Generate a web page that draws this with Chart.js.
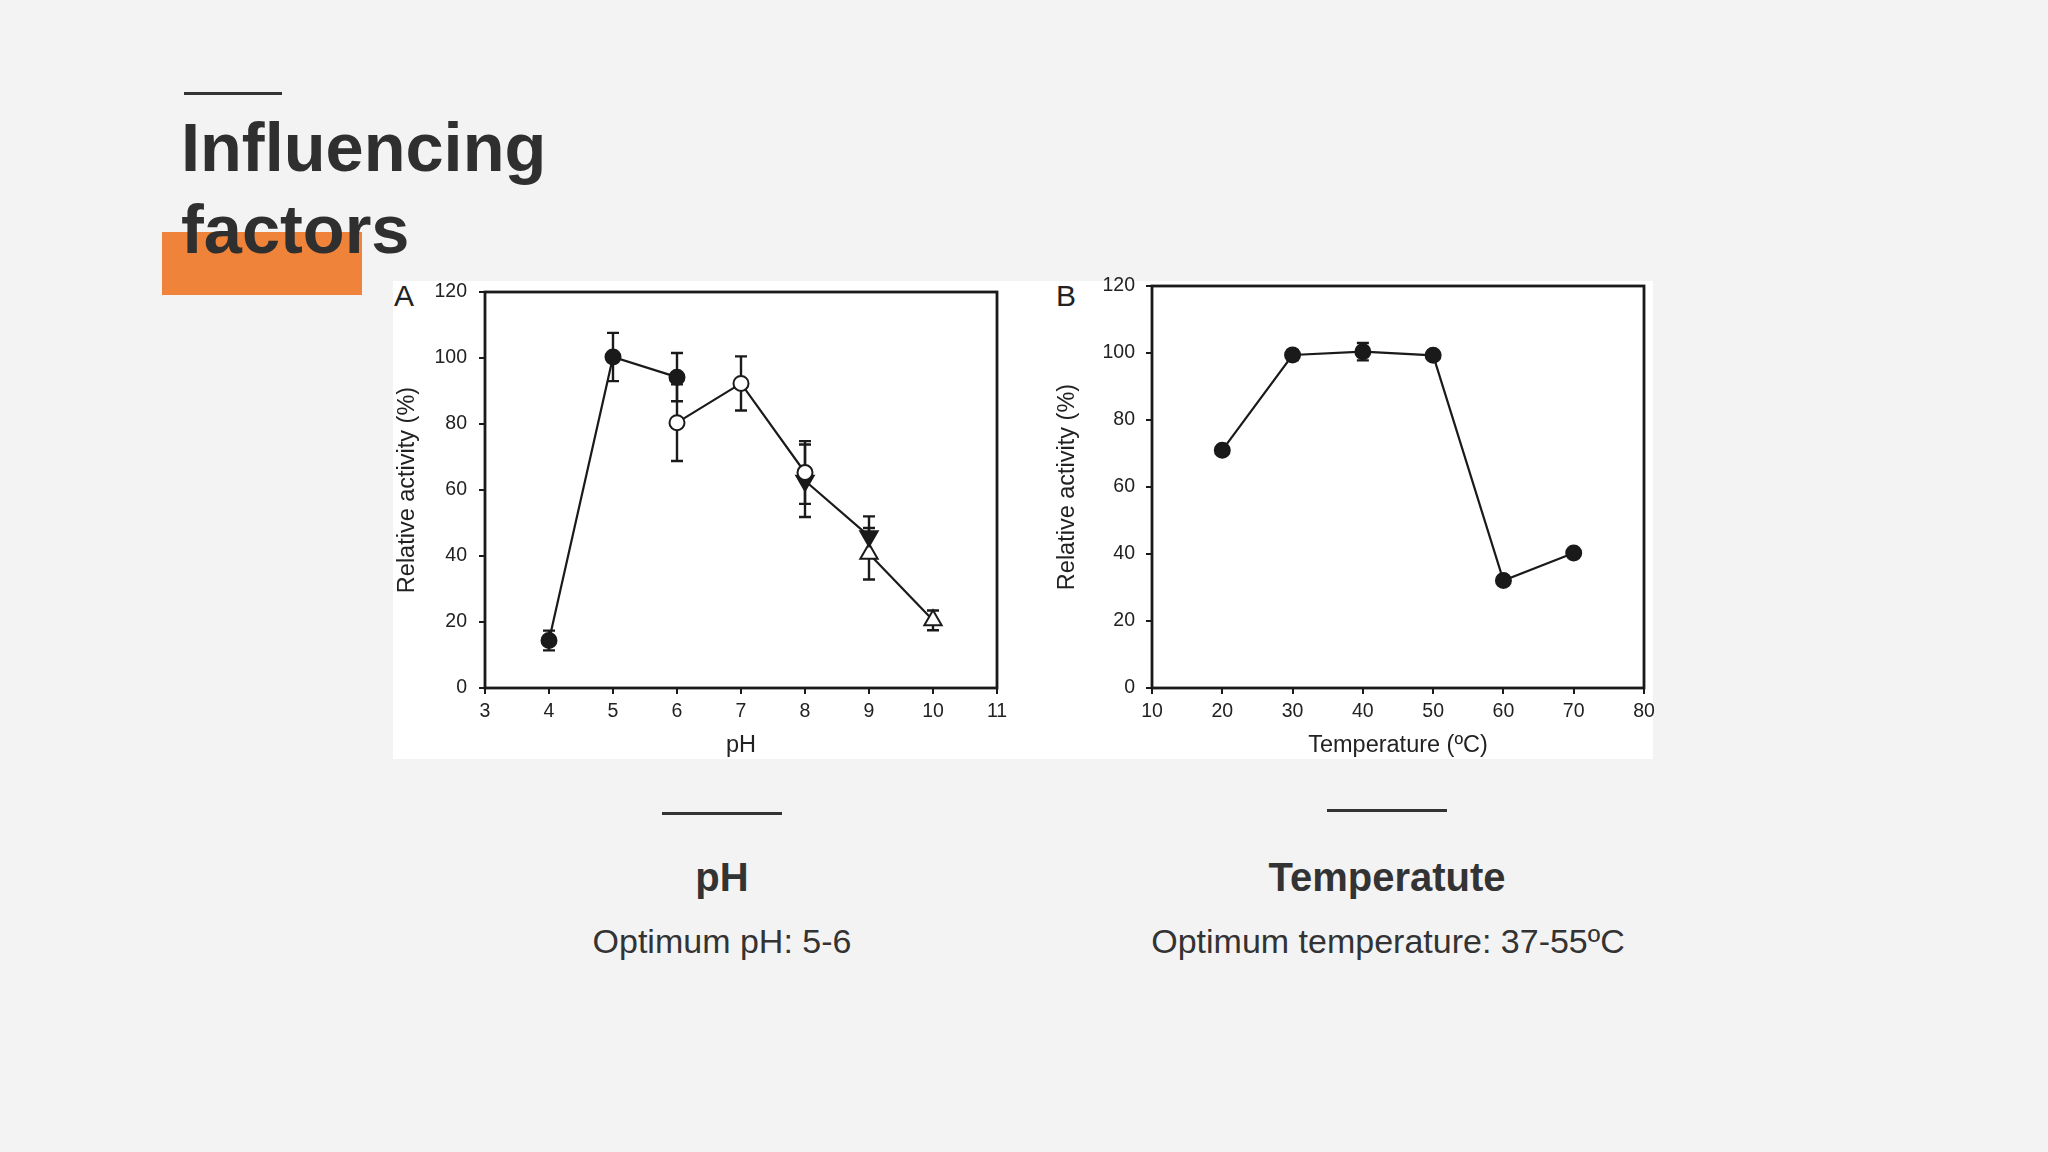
<!DOCTYPE html>
<html>
<head>
<meta charset="utf-8">
<script src="https://cdn.jsdelivr.net/npm/chart.js@4.4.1/dist/chart.umd.min.js"></script>
<style>
  body { margin: 0; width: 2048px; height: 1152px; background: #f4f3f4; overflow: hidden;
         font-family: "Liberation Sans", Arial, sans-serif; color: #333; }
  .abs { position: absolute; }
  .rule { position: absolute; height: 3px; background: #333; }
  #panel { left: 393px; top: 281px; width: 1260px; height: 478px; background: #fff; }
  #title { left: 181px; top: 107px; font-size: 68.5px; line-height: 82px; font-weight: bold; color: #2f2f2f; }
  #orange { left: 162px; top: 232px; width: 200px; height: 63px; background: #ee8339; }
  .letter { font-size: 30px; line-height: 1; color: #222; }
  .head { width: 500px; text-align: center; font-size: 40px; line-height: 1; font-weight: bold; }
  .sub { width: 600px; text-align: center; font-size: 34px; line-height: 1; }
  canvas { position: absolute; }
</style>
</head>
<body>
<div class="rule" style="left:184px; top:92px; width:98px;"></div>
<div id="orange" class="abs"></div>
<div id="title" class="abs">Influencing<br>factors</div>
<div id="panel" class="abs"></div>
<div class="abs letter" style="left:394px; top:281px;">A</div>
<div class="abs letter" style="left:1056px; top:281px;">B</div>
<canvas id="chartA" width="640" height="500" style="left:380px; top:260px;"></canvas>
<canvas id="chartB" width="630" height="500" style="left:1040px; top:260px;"></canvas>

<div class="rule" style="left:662px; top:812px; width:120px;"></div>
<div class="abs head" style="left:472px; top:857px;">pH</div>
<div class="abs sub" style="left:422px; top:924px;">Optimum pH: 5-6</div>

<div class="rule" style="left:1327px; top:809px; width:120px;"></div>
<div class="abs head" style="left:1137px; top:857px;">Temperatute</div>
<div class="abs sub" style="left:1088px; top:924px;">Optimum temperature: 37-55ºC</div>

<script>
// ---- data ----
// panel A: relative activity vs pH, four buffer series
const set1PH = [4, 5, 6];
const set1Act = [14.4, 100.3, 94.2];
const set1Err = [3, 7.3, 7.3];

const set2PH = [6, 7, 8];
const set2Act = [80.4, 92.3, 65.3];
const set2Err = [11.6, 8.2, 9.5];

const set3PH = [8, 9];
const set3Act = [62.8, 46];
const set3Err = [11, 6];

const set4PH = [9, 10];
const set4Act = [40.7, 20.5];
const set4Err = [7.8, 3];

const phTicks = [3, 11];      // x range
// panel B: relative activity vs temperature
const tempC = [20, 30, 40, 50, 60, 70];
const tempAct = [71, 99.4, 100.4, 99.3, 32.1, 40.3];
const tempErr = [1, 1.5, 2.6, 1, 1, 1];
const tempTicks = [10, 80];
const actTicks = [0, 120];

const ink = '#1a1a1a';
const labelFont = { family: 'Liberation Sans, Arial, sans-serif', size: 19.5 };
const titleFont = { family: 'Liberation Sans, Arial, sans-serif', size: 23.5 };

const toPoints = (xs, ys) => xs.map((x, i) => ({ x: x, y: ys[i] }));

// error bars, drawn under the markers
const errorBars = {
  id: 'errorBars',
  beforeDatasetsDraw(chart) {
    const ctx = chart.ctx;
    const xs = chart.scales.x, ys = chart.scales.y;
    ctx.save();
    ctx.strokeStyle = ink;
    ctx.lineWidth = 2.4;
    chart.data.datasets.forEach(ds => {
      if (!ds.errors) return;
      ds.data.forEach((p, i) => {
        const e = ds.errors[i];
        const x = xs.getPixelForValue(p.x);
        const y1 = ys.getPixelForValue(p.y + e);
        const y2 = ys.getPixelForValue(p.y - e);
        ctx.beginPath();
        ctx.moveTo(x, y1); ctx.lineTo(x, y2);
        ctx.moveTo(x - 6, y1); ctx.lineTo(x + 6, y1);
        ctx.moveTo(x - 6, y2); ctx.lineTo(x + 6, y2);
        ctx.stroke();
      });
    });
    ctx.restore();
  }
};

// frame around the plot area
const frame = {
  id: 'frame',
  afterDraw(chart) {
    const a = chart.chartArea, ctx = chart.ctx;
    ctx.save();
    ctx.strokeStyle = ink;
    ctx.lineWidth = 2.8;
    ctx.strokeRect(a.left, a.top, a.right - a.left, a.bottom - a.top);
    ctx.restore();
  }
};

const lineSet = (data, errs, style, filled, rot) => ({
  data: data,
  errors: errs,
  showLine: true,
  borderColor: ink,
  borderWidth: 2.2,
  pointStyle: style,
  pointRotation: rot || 0,
  pointRadius: style === 'triangle' ? 10 : 7.5,
  pointBorderWidth: 2,
  pointBorderColor: ink,
  pointBackgroundColor: filled ? ink : '#ffffff'
});

const makeScales = (xr, xTitle, yWidth, yPad) => ({
  x: {
    type: 'linear', min: xr[0], max: xr[1],
    ticks: { stepSize: xr[1] - xr[0] > 20 ? 10 : 1, color: '#222', font: labelFont, padding: 6 },
    grid: { drawOnChartArea: false, drawTicks: true, tickLength: 6, color: ink, lineWidth: 2 },
    border: { display: false },
    title: { display: true, text: xTitle, color: '#222', font: titleFont, padding: { top: 0, bottom: 0.5 } },
    afterFit: s => { s.height = 72; }
  },
  y: {
    type: 'linear', min: actTicks[0], max: actTicks[1],
    ticks: { stepSize: 20, color: '#222', font: labelFont, padding: yPad },
    grid: { drawOnChartArea: false, drawTicks: true, tickLength: 6, color: ink, lineWidth: 2 },
    border: { display: false },
    title: { display: true, text: 'Relative activity (%)', color: '#222', font: titleFont, padding: { top: 13, bottom: 0 } },
    afterFit: s => { s.width = yWidth; }
  }
});

const baseOptions = (scales, pad) => ({
  responsive: false,
  animation: false,
  devicePixelRatio: 1,
  layout: { padding: pad },
  plugins: { legend: { display: false }, tooltip: { enabled: false } },
  scales: scales
});

new Chart(document.getElementById('chartA'), {
  type: 'scatter',
  data: {
    datasets: [
      lineSet(toPoints(set1PH, set1Act), set1Err, 'circle', true),
      lineSet(toPoints(set2PH, set2Act), set2Err, 'circle', false),
      lineSet(toPoints(set3PH, set3Act), set3Err, 'triangle', true, 180),
      lineSet(toPoints(set4PH, set4Act), set4Err, 'triangle', false)
    ]
  },
  options: baseOptions(makeScales(phTicks, 'pH', 105, 12), { top: 32, right: 23, left: 0, bottom: 0 }),
  plugins: [errorBars, frame]
});

new Chart(document.getElementById('chartB'), {
  type: 'scatter',
  data: {
    datasets: [
      lineSet(toPoints(tempC, tempAct), tempErr, 'circle', true)
    ]
  },
  options: baseOptions(makeScales(tempTicks, 'Temperature (ºC)', 112, 11), { top: 26, right: 26, left: 0, bottom: 0 }),
  plugins: [errorBars, frame]
});
</script>
</body>
</html>
